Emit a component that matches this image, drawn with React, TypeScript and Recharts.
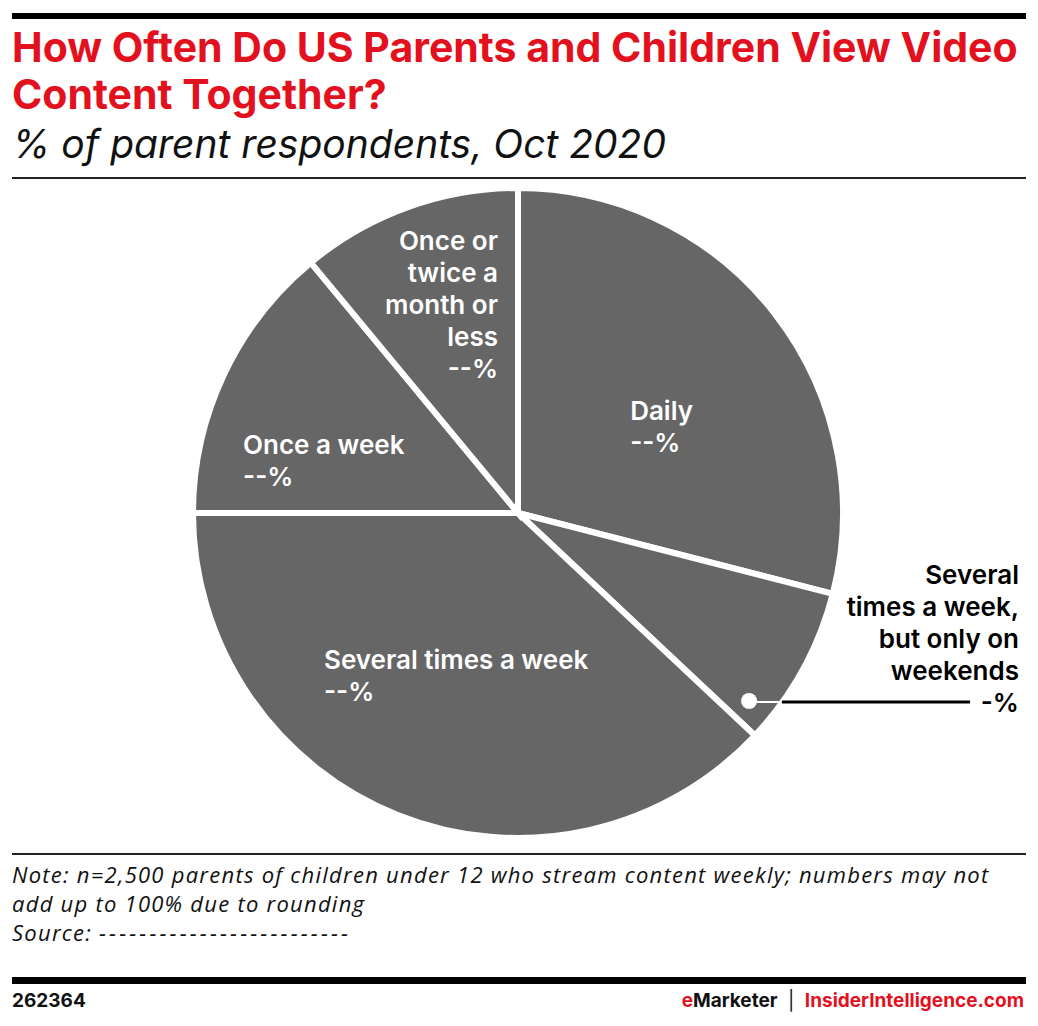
import React from "react";
import { PieChart, Pie, Cell } from "recharts";

const categories = [
  "Daily",
  "Several times a week, but only on weekends",
  "Several times a week",
  "Once a week",
  "Once or twice a month or less",
];
const values = [29, 8, 38, 14, 11];
const valueLabels = ["--%", "-%", "--%", "--%", "--%"];
const labelLines: string[][] = [
  ["Daily"],
  ["Several", "times a week,", "but only on", "weekends"],
  ["Several times a week"],
  ["Once a week"],
  ["Once or", "twice a", "month or", "less"],
];

const data = categories.map((name, i) => ({ name, value: values[i] }));

// label placement relative to pie centre, in units of radius
const labelPos = [
  { fx: 0.345, fy: -0.317, anchor: "start", color: "#fff" },
  { fx: 1.5415, fy: 0.1877, anchor: "end", color: "#000" },
  { fx: -0.597, fy: 0.449, anchor: "start", color: "#fff" },
  { fx: -0.846, fy: -0.212, anchor: "start", color: "#fff" },
  { fx: -0.0615, fy: -0.84, anchor: "end", color: "#fff" },
];

const FONT = "Inter, 'Open Sans', sans-serif";
const LINE_H = 32;

const renderLabel = (props: any) => {
  const { cx, cy, outerRadius, index } = props;
  const pos = labelPos[index];
  const x = cx + outerRadius * pos.fx;
  const y = cy + outerRadius * pos.fy;
  const lines = [...labelLines[index], valueLabels[index]];
  const extra: React.ReactNode[] = [];
  if (index === 1) {
    const lastY = y + (lines.length - 1) * LINE_H;
    const dotX = cx + outerRadius * 0.711;
    const dotY = lastY - 1;
    extra.push(
      <line key="wl" x1={dotX} y1={dotY + 1} x2={cx + outerRadius * 0.812} y2={dotY + 1} stroke="#fff" strokeWidth={2} />,
      <line key="bl" x1={cx + outerRadius * 0.812} y1={dotY + 1} x2={cx + outerRadius * 1.391} y2={dotY + 1} stroke="#000" strokeWidth={3} />,
      <circle key="dot" cx={dotX} cy={dotY} r={8} fill="#fff" />
    );
  }
  return (
    <g key={`lab-${index}`}>
      {extra}
      <text
        x={x}
        y={y}
        textAnchor={pos.anchor}
        fill={pos.color}
        fontFamily={FONT}
        fontSize={26}
        fontWeight={600}
        dominantBaseline="central"
      >
        {lines.map((l, i) => (
          <tspan key={i} x={x} y={y + i * LINE_H}>
            {l}
          </tspan>
        ))}
      </text>
    </g>
  );
};

export default function App() {
  return (
    <div
      style={{
        position: "absolute",
        left: 0,
        top: 0,
        width: 1038,
        height: 1026,
        background: "#fff",
        fontFamily: FONT,
        overflow: "hidden",
      }}
    >
      <div style={{ position: "absolute", left: 12, top: 13, width: 1014, height: 6, background: "#000" }} />
      <div
        style={{
          position: "absolute",
          left: 12,
          top: 24,
          width: 1030,
          color: "#e3101e",
          fontWeight: 700,
          fontSize: 41,
          lineHeight: "47px",
          letterSpacing: 0,
          whiteSpace: "nowrap",
        }}
      >
        How Often Do US Parents and Children View Video
        <br />
        Content Together?
      </div>
      <div
        style={{
          position: "absolute",
          left: 12,
          top: 122,
          fontStyle: "italic",
          fontSize: 39,
          lineHeight: "44px",
          color: "#111",
          whiteSpace: "nowrap",
        }}
      >
        % of parent respondents, Oct 2020
      </div>
      <div style={{ position: "absolute", left: 12, top: 177, width: 1014, height: 2, background: "#222" }} />

      <div style={{ position: "absolute", left: 0, top: 180 }}>
        <PieChart width={1038} height={670} margin={{ top: 0, right: 0, bottom: 0, left: 0 }}>
          <Pie
            data={data}
            dataKey="value"
            nameKey="name"
            cx={518}
            cy={333}
            outerRadius={325}
            innerRadius={0}
            startAngle={90}
            endAngle={-270}
            stroke="#fff"
            strokeWidth={6}
            isAnimationActive={false}
            labelLine={false}
            label={renderLabel}
          >
            {data.map((d) => (
              <Cell key={d.name} fill="#666666" />
            ))}
          </Pie>
        </PieChart>
      </div>

      <div style={{ position: "absolute", left: 12, top: 853, width: 1014, height: 2, background: "#222" }} />
      <div
        style={{
          position: "absolute",
          left: 12,
          top: 860,
          width: 1030,
          fontStyle: "italic",
          fontSize: 22,
          lineHeight: "29px",
          color: "#111",
          fontFamily: "'Open Sans', sans-serif",
          letterSpacing: 1.25,
          whiteSpace: "nowrap",
        }}
      >
        Note: n=2,500 parents of children under 12 who stream content weekly; numbers may not
        <br />
        add up to 100% due to rounding
        <br />
        Source: <span style={{ letterSpacing: 3.2 }}>-------------------------</span>
      </div>
      <div style={{ position: "absolute", left: 12, top: 977, width: 1014, height: 7, background: "#000" }} />
      <div
        style={{
          position: "absolute",
          left: 12,
          top: 988,
          fontWeight: 700,
          fontSize: 19,
          lineHeight: "26px",
          color: "#111",
        }}
      >
        262364
      </div>
      <div
        style={{
          position: "absolute",
          right: 14,
          top: 988,
          fontWeight: 700,
          fontSize: 19,
          lineHeight: "26px",
          color: "#111",
        }}
      >
        <span style={{ color: "#e3101e" }}>e</span>Marketer{" "}
        <span style={{ fontWeight: 400, margin: "0 6px" }}>|</span>{" "}
        <span style={{ color: "#e3101e" }}>InsiderIntelligence.com</span>
      </div>
    </div>
  );
}
